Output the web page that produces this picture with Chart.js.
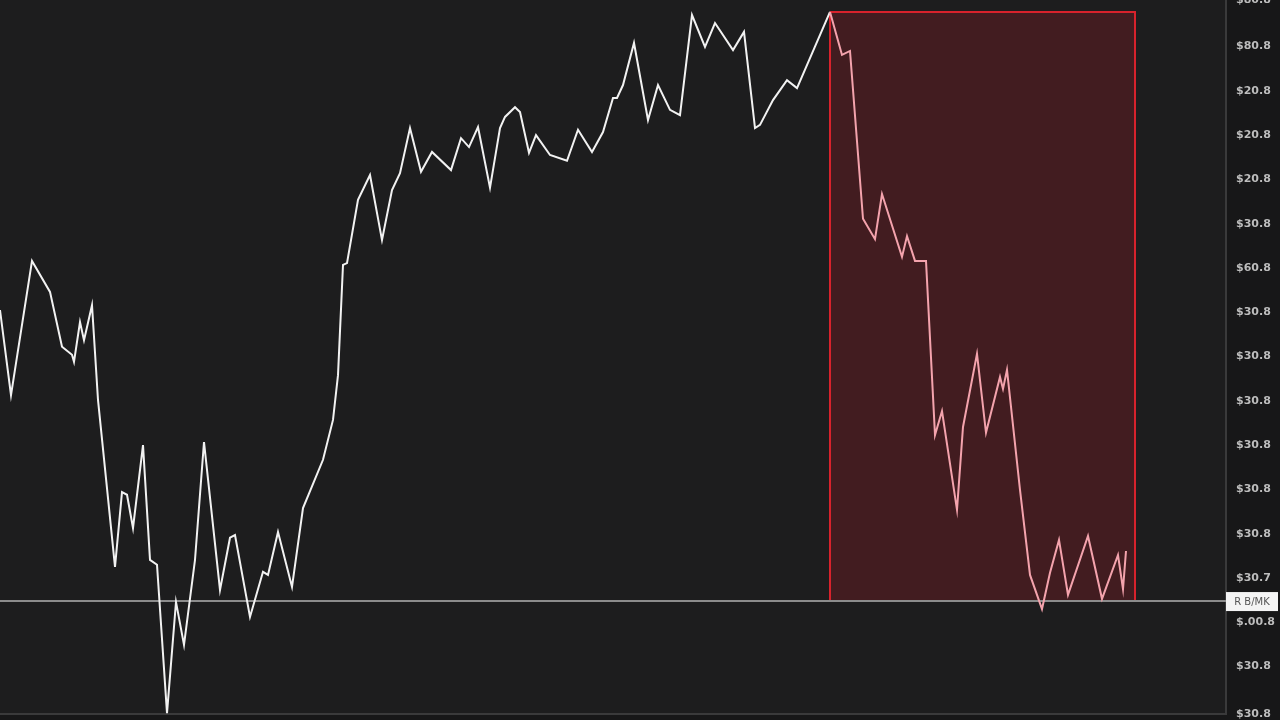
<!DOCTYPE html>
<html>
<head>
<meta charset="utf-8">
<script src="https://cdn.jsdelivr.net/npm/chart.js@4.4.1/dist/chart.umd.min.js"></script>
<style>
  html, body { margin: 0; padding: 0; background: #171718; }
  #wrap { width: 1280px; height: 720px; position: relative; }
</style>
</head>
<body>
<div id="wrap"><canvas id="chart"></canvas></div>
<script>
// Price path (x = time step, y = price in axis units)
const priceX = [0, 11, 32, 50, 62, 72, 74, 80, 84, 92, 98, 115, 122, 127, 133, 143, 150, 157, 167, 176,
  184, 195, 204, 220, 230, 235, 250, 263, 268, 278, 292, 303, 323, 333, 338, 343, 347, 358, 370, 382,
  392, 400, 410, 421, 432, 451, 461, 469, 478, 490, 500, 505, 515, 520, 529, 536, 550, 567, 578, 592,
  603, 613, 617, 623, 634, 648, 658, 670, 680, 692, 705, 715, 733, 744, 755, 760, 773, 787, 797, 830,
  842, 850, 863, 875, 882, 902, 907, 915, 926, 935, 942, 957, 963, 977, 986, 1000, 1003, 1007, 1020, 1030,
  1042, 1050, 1059, 1068, 1088, 1102, 1118, 1123, 1126];
const priceY = [9.05, 7.13, 10.16, 9.46, 8.22, 8.04, 7.88, 8.78, 8.37, 9.16, 7.02, 3.25, 4.94, 4.88, 4.13, 6.00, 3.41, 3.30, -0.05, 2.46,
  1.49, 3.41, 6.07, 2.73, 3.91, 3.97, 2.12, 3.14, 3.07, 4.04, 2.80, 4.58, 5.67, 6.57, 7.58, 10.07, 10.11, 11.54, 12.10, 10.63,
  11.76, 12.14, 13.16, 12.17, 12.62, 12.21, 12.93, 12.73, 13.18, 11.81, 13.16, 13.41, 13.63, 13.52, 12.60, 13.00, 12.55, 12.42, 13.12, 12.62,
  13.07, 13.84, 13.84, 14.13, 15.08, 13.34, 14.13, 13.57, 13.45, 15.71, 14.99, 15.53, 14.92, 15.33, 13.16, 13.23, 13.79, 14.24, 14.06, 15.78,
  14.81, 14.90, 11.11, 10.65, 11.67, 10.25, 10.72, 10.16, 10.16, 6.23, 6.77, 4.54, 6.41, 8.06, 6.28, 7.54, 7.27, 7.70, 4.99, 3.07,
  2.30, 3.12, 3.86, 2.62, 3.95, 2.53, 3.52, 2.75, 3.61];

// Drawdown box (peak to trough) and the current-level line
const boxX = [830, 1135];
const boxY = [2.48, 15.78];
const levelY = 2.48;
const levelLabel = 'R B/MK';
const xRange = [0, 1226];

// Right axis tick labels, bottom (0) to top (16)
const tickLabels = ['$30.8', '$30.8', '$.00.8', '$30.7', '$30.8', '$30.8', '$30.8', '$30.8', '$30.8',
  '$30.8', '$60.8', '$30.8', '$20.8', '$20.8', '$20.8', '$80.8', '$80.8'];

const pricePoints = priceX.map((x, i) => ({ x: x, y: priceY[i] }));
const boxPoints = [
  { x: boxX[0], y: boxY[1] }, { x: boxX[1], y: boxY[1] },
  { x: boxX[1], y: boxY[0] }, { x: boxX[0], y: boxY[0] }, { x: boxX[0], y: boxY[1] }
];
const levelPoints = [{ x: xRange[0], y: levelY }, { x: xRange[1], y: levelY }];

// Backgrounds: darker axis strip, plot area slightly lighter
const backgroundPlugin = {
  id: 'backgrounds',
  beforeDraw(chart) {
    const { ctx, chartArea } = chart;
    ctx.save();
    ctx.fillStyle = '#171718';
    ctx.fillRect(0, 0, chart.width, chart.height);
    ctx.fillStyle = '#1d1d1e';
    ctx.fillRect(chartArea.left, chartArea.top, chartArea.right - chartArea.left, chartArea.bottom - chartArea.top);
    ctx.restore();
  }
};

// Price badge on the right axis at the level line
const badgePlugin = {
  id: 'levelBadge',
  afterDraw(chart) {
    const { ctx } = chart;
    const y = chart.scales.y.getPixelForValue(levelY);
    const left = chart.chartArea.right;
    ctx.save();
    ctx.fillStyle = '#f4f4f4';
    ctx.fillRect(left, y - 9, 52, 19);
    ctx.fillStyle = '#555';
    ctx.font = '10px "DejaVu Sans"';
    ctx.textBaseline = 'middle';
    ctx.textAlign = 'center';
    ctx.fillText(levelLabel, left + 26, y + 1);
    ctx.restore();
  }
};

new Chart(document.getElementById('chart'), {
  type: 'line',
  data: {
    datasets: [
      {
        data: pricePoints,
        borderColor: '#f2f2f2',
        borderWidth: 2,
        pointRadius: 0,
        tension: 0,
        segment: {
          borderColor: c => c.p0.parsed.x >= boxX[0] ? '#f4a3ad' : '#f2f2f2'
        },
        order: 1
      },
      {
        data: levelPoints,
        borderColor: '#8c8c8c',
        borderWidth: 2,
        pointRadius: 0,
        order: 2
      },
      {
        data: boxPoints,
        borderColor: '#d8222c',
        borderWidth: 2,
        backgroundColor: 'rgba(112, 28, 36, 0.45)',
        fill: 'shape',
        pointRadius: 0,
        tension: 0,
        order: 3
      }
    ]
  },
  options: {
    responsive: true,
    maintainAspectRatio: false,
    animation: false,
    layout: { padding: { top: 0, bottom: 6, left: 0, right: 0 } },
    plugins: {
      legend: { display: false },
      tooltip: { enabled: false }
    },
    scales: {
      x: {
        type: 'linear',
        min: xRange[0],
        max: xRange[1],
        grid: { display: false, drawTicks: false },
        ticks: { display: false },
        border: { display: true, color: '#3a3a3b', width: 2 }
      },
      y: {
        position: 'right',
        min: -0.07,
        max: 16.05,
        grid: { display: false, drawTicks: false },
        border: { display: true, color: '#3a3a3b', width: 2 },
        ticks: {
          stepSize: 1,
          padding: 10,
          color: '#bdbdbd',
          font: { family: 'DejaVu Sans', size: 11, weight: 'bold' },
          callback: v => tickLabels[Math.round(v)] || ''
        },
        afterFit(scale) {
          scale.width = 54;
          scale.paddingTop = 0;
          scale.paddingBottom = 0;
        }
      }
    }
  },
  plugins: [backgroundPlugin, badgePlugin]
});
</script>
</body>
</html>
